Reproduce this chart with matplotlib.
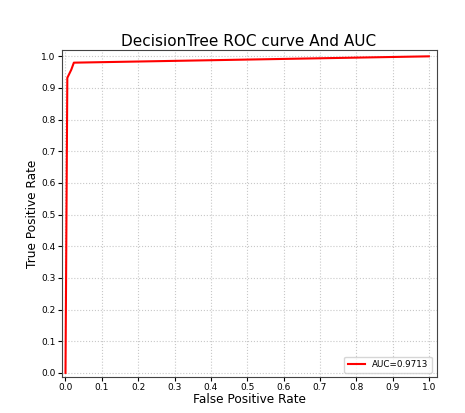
import matplotlib
matplotlib.use("Agg")
import matplotlib.pyplot as plt

fpr = [0.0, 0.005, 0.016, 0.023, 1.0]
tpr = [0.0, 0.932, 0.958, 0.980, 1.0]
auc_label = "AUC=0.9713"
title = "DecisionTree ROC curve And AUC"
xticks = [0.0, 0.1, 0.2, 0.3, 0.4, 0.5, 0.6, 0.7, 0.8, 0.9, 1.0]

fig = plt.figure(figsize=(4.65, 4.13), dpi=100)
ax = fig.add_axes([61.5/465, 1-377/413, (436.5-61.5)/465, (377-50)/413])
ax.plot(fpr, tpr, color="red", lw=1.5, label=auc_label)
ax.set_xlim(-0.011, 1.021)
ax.set_ylim(-0.013, 1.02)
ax.set_xticks(xticks)
ax.set_yticks(xticks)
ax.tick_params(labelsize=6.5, length=3, width=0.8, pad=1.5)
ax.grid(True, linestyle=":", color="#c8c8c8", linewidth=0.8)
for s in ax.spines.values():
    s.set_color("#444444")
ax.set_title(title, fontsize=11, pad=3)
ax.set_xlabel("False Positive Rate", fontsize=8.7, labelpad=0.5)
ax.set_ylabel("True Positive Rate", fontsize=8.7, labelpad=1.5)
ax.legend(loc="lower right", fontsize=6.3)
fig.savefig("out.png", dpi=100)
